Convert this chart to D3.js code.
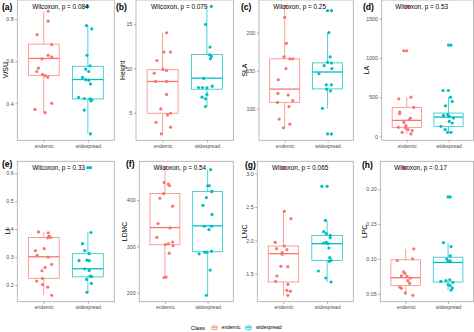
<!DOCTYPE html>
<html><head><meta charset="utf-8">
<script src="https://cdn.jsdelivr.net/npm/d3@7"></script>
<style>body{margin:0;background:#fff;} svg{display:block;font-family:"Liberation Sans",Arial,sans-serif;}</style>
</head><body><svg id="chart" width="474" height="332"></svg>
<script>
// ---------------- DATA ----------------
const classes = ["endemic", "widespread"];
const classColors = ["#F8766D", "#00BFC4"];
const traits = ["WSU", "Height", "SLA", "LA", "LI", "LDMC", "LNC", "LPC"];
const tags = ["(a)", "(b)", "(c)", "(d)", "(e)", "(f)", "(g)", "(h)"];
const pValues = ["0.084", "0.079", "0.25", "0.53", "0.33", "0.54", "0.065", "0.17"];
const yTicks = [
  [0.4, 0.6, 0.8], [5, 10, 15], [100, 150, 200], [0, 500, 1000, 1500],
  [0.2, 0.3, 0.4, 0.5, 0.6], [200, 300, 400], [1.5, 2.0, 2.5, 3.0], [0.05, 0.10, 0.15, 0.20]
];
const yTickLabels = [
  ["0.4", "0.6", "0.8"], ["5", "10", "15"], ["100", "150", "200"], ["0", "500", "1000", "1500"],
  ["0.2", "0.3", "0.4", "0.5", "0.6"], ["200", "300", "400"], ["1.5", "2.0", "2.5", "3.0"], ["0.05", "0.10", "0.15", "0.20"]
];

// WSU
const wsuEndemic = [0.837, 0.79, 0.726, 0.679, 0.628, 0.62, 0.611, 0.567, 0.551, 0.537, 0.532, 0.524, 0.40, 0.371, 0.356];
const wsuEndemicJitter = [0.10, 0.10, -0.15, 0.18, 0.10, 0.18, -0.04, -0.12, -0.16, -0.03, 0.03, 0.09, 0.18, -0.20, 0.03];
const wsuWidespread = [0.86, 0.769, 0.753, 0.628, 0.578, 0.562, 0.551, 0.523, 0.513, 0.51, 0.492, 0.428, 0.423, 0.421, 0.416, 0.412, 0.368, 0.255];
const wsuWidespreadJitter = [-0.02, -0.03, 0.09, -0.02, 0.05, -0.05, 0.02, -0.12, -0.05, 0.02, 0.06, -0.21, -0.08, 0.05, 0.09, 0.07, -0.08, 0.06];
const wsuBoxes = [[0.356, 0.532, 0.613, 0.681, 0.837], [0.255, 0.421, 0.513, 0.576, 0.769]];

// Height
const heightEndemic = [14.04, 11.85, 11.85, 10.9, 9.89, 9.77, 9.47, 8.53, 8.53, 7.06, 5.43, 4.75, 4.94, 3.92, 3.36, 2.6];
const heightEndemicJitter = [0.09, 0.03, 0.18, -0.13, 0.01, 0.09, -0.19, -0.16, 0.09, 0.09, -0.04, 0.11, 0.18, -0.15, 0.18, -0.03];
const heightWidespread = [17.02, 14.98, 12.42, 11.55, 11.36, 11.1, 8.87, 7.85, 7.85, 7.81, 8.0, 6.75, 6.57, 7.06, 5.7];
const heightWidespreadJitter = [0.10, -0.03, 0.07, 0.06, 0.10, 0.08, -0.07, -0.19, -0.10, 0.00, 0.12, -0.11, -0.03, 0.00, -0.03];
const heightBoxes = [[2.6, 4.94, 8.53, 9.85, 14.04], [5.7, 7.66, 8.9, 11.58, 17.02]];

// SLA
const slaEndemic = [234.5, 220, 185.8, 168, 165.5, 165.5, 152.7, 138, 120, 118, 110.6, 108.4, 102.7, 86.3, 79.6, 74.8];
const slaEndemicJitter = [0.02, 0.00, 0.04, -0.02, 0.12, 0.19, 0.03, -0.15, -0.16, 0.08, 0.19, -0.17, 0.10, -0.13, 0.12, -0.03];
const slaWidespread = [228.8, 200, 168, 161, 160, 156.6, 152.7, 146, 131.4, 131.4, 125.7, 123.5, 100.4, 66.8];
const slaWidespreadJitter = [0.09, 0.03, 0.06, 0.00, 0.09, -0.08, 0.10, -0.20, -0.03, 0.09, -0.02, 0.07, -0.12, 0.09];
const slaBoxes = [[74.8, 108.4, 125.7, 165.5, 234.5], [100.4, 126, 148.2, 160.2, 200]];

// LA
const laEndemic = [1658, 1092, 479, 500, 369, 310, 289, 234, 213, 179, 136, 115, 107, 86, 73, 52, 31];
const laEndemicJitter = [0.05, -0.07, -0.19, 0.10, 0.17, -0.17, -0.17, 0.09, 0.06, -0.07, -0.02, -0.20, -0.03, 0.03, 0.13, -0.11, 0.10];
const laWidespread = [1164, 585, 500, 445, 390, 276, 255, 267, 234, 191, 170, 128, 86, 52, 52];
const laWidespreadJitter = [0.06, -0.13, 0.05, 0.09, -0.07, -0.02, 0.02, -0.12, 0.12, 0.02, 0.09, -0.18, -0.08, -0.02, 0.06];
const laBoxes = [[31, 115, 204, 369, 500], [52, 128, 246, 297, 500]];

// LI
const liEndemic = [0.390, 0.387, 0.375, 0.369, 0.370, 0.323, 0.330, 0.306, 0.30, 0.263, 0.274, 0.251, 0.224, 0.214, 0.201, 0.192, 0.163];
const liEndemicJitter = [-0.12, 0.10, 0.12, 0.09, 0.16, -0.19, 0.01, -0.15, 0.10, 0.03, 0.18, -0.04, -0.03, -0.16, -0.03, 0.09, 0.18];
const liWidespread = [0.62, 0.388, 0.348, 0.323, 0.312, 0.287, 0.289, 0.287, 0.258, 0.252, 0.232, 0.230, 0.220, 0.206, 0.174];
const liWidespreadJitter = [0.06, 0.07, -0.12, -0.07, 0.03, -0.20, -0.02, 0.03, -0.07, 0.03, 0.05, 0.09, -0.03, 0.08, -0.02];
const liBoxes = [[0.163, 0.224, 0.301, 0.370, 0.390], [0.174, 0.229, 0.258, 0.312, 0.388]];

// LDMC
const ldmcEndemic = [470, 438, 434.5, 431, 414, 404, 387, 349.5, 340, 319.6, 304, 309.5, 305.8, 301.5, 285.5, 233, 234];
const ldmcEndemicJitter = [0.01, -0.02, 0.08, 0.11, -0.03, -0.12, 0.18, -0.16, 0.12, -0.19, 0.01, 0.18, 0.08, 0.19, 0.10, -0.02, 0.03];
const ldmcWidespread = [466, 431, 431, 418.5, 419, 405.5, 388.7, 369, 343.6, 343.6, 336.4, 284, 287.6, 287.6, 289.8, 249, 194.5];
const ldmcWidespreadJitter = [0.07, 0.00, 0.04, 0.09, 0.10, -0.03, -0.11, 0.10, -0.08, 0.09, 0.03, -0.20, -0.07, -0.02, 0.09, 0.06, -0.03];
const ldmcBoxes = [[233, 303.6, 340.7, 414, 470], [194.5, 288.4, 344.4, 418.5, 466]];

// LNC
const lncEndemic = [3.09, 2.435, 2.325, 1.97, 1.875, 1.915, 1.86, 1.815, 1.79, 1.61, 1.605, 1.465, 1.385, 1.34, 1.25, 1.235, 1.175];
const lncEndemicJitter = [0.02, 0.02, 0.17, -0.19, -0.16, 0.02, 0.08, -0.03, -0.03, -0.06, 0.10, -0.15, -0.18, 0.10, 0.08, 0.16, 0.10];
const lncWidespread = [2.81, 2.30, 2.13, 2.10, 2.075, 2.04, 1.96, 1.97, 1.95, 1.885, 1.74, 1.70, 1.685, 1.54, 1.435, 1.375];
const lncWidespreadJitter = [-0.12, -0.04, -0.08, -0.02, 0.07, 0.07, -0.08, -0.02, 0.02, 0.04, 0.06, 0.09, 0.05, -0.20, -0.03, 0.09];
const lncBoxes = [[1.175, 1.375, 1.80, 1.915, 2.435], [1.375, 1.70, 1.95, 2.075, 2.30]];

// LPC
const lpcEndemic = [0.231, 0.1143, 0.0976, 0.10, 0.0814, 0.079, 0.0757, 0.0748, 0.0724, 0.0686, 0.0648, 0.0595, 0.0576, 0.051, 0.0476];
const lpcEndemicJitter = [-0.05, 0.19, -0.20, 0.16, -0.05, -0.02, -0.10, 0.03, 0.11, 0.05, 0.09, -0.14, -0.10, -0.01, 0.17];
const lpcWidespread = [0.189, 0.1233, 0.1176, 0.1043, 0.0995, 0.0971, 0.0962, 0.0676, 0.0686, 0.07, 0.0662, 0.0629, 0.0614, 0.058, 0.0552];
const lpcWidespreadJitter = [0.05, -0.11, 0.07, 0.05, -0.03, 0.05, 0.00, -0.17, -0.05, 0.04, 0.11, 0.00, 0.05, 0.10, 0.07];
const lpcBoxes = [[0.0476, 0.0619, 0.0729, 0.0986, 0.1143], [0.0552, 0.0667, 0.0948, 0.1024, 0.1233]];

const traitData = [
  [wsuEndemic, wsuWidespread, wsuEndemicJitter, wsuWidespreadJitter, wsuBoxes],
  [heightEndemic, heightWidespread, heightEndemicJitter, heightWidespreadJitter, heightBoxes],
  [slaEndemic, slaWidespread, slaEndemicJitter, slaWidespreadJitter, slaBoxes],
  [laEndemic, laWidespread, laEndemicJitter, laWidespreadJitter, laBoxes],
  [liEndemic, liWidespread, liEndemicJitter, liWidespreadJitter, liBoxes],
  [ldmcEndemic, ldmcWidespread, ldmcEndemicJitter, ldmcWidespreadJitter, ldmcBoxes],
  [lncEndemic, lncWidespread, lncEndemicJitter, lncWidespreadJitter, lncBoxes],
  [lpcEndemic, lpcWidespread, lpcEndemicJitter, lpcWidespreadJitter, lpcBoxes]
];

// ---------------- LAYOUT ----------------
const panels = [
  {l: 17.3, r: 114.3, t: 0, b: 140.3, titleX: 5.5, tagX: 2, tagY: 9.5},
  {l: 136, r: 233.5, t: 0, b: 140.3, titleX: 122.5, tagX: 116, tagY: 9.5},
  {l: 259, r: 353.3, t: 0, b: 140.3, titleX: 244.5, tagX: 241, tagY: 9.5},
  {l: 381.7, r: 473.5, t: 0, b: 140.3, titleX: 366.5, tagX: 363, tagY: 9.5},
  {l: 17.3, r: 114.3, t: 161.3, b: 301.7, titleX: 7.5, tagX: 2, tagY: 166.5},
  {l: 139.3, r: 233.3, t: 161.3, b: 301.7, titleX: 124.5, tagX: 126, tagY: 166.5},
  {l: 257.3, r: 353.3, t: 161.3, b: 301.7, titleX: 244.5, tagX: 245, tagY: 168},
  {l: 380.3, r: 473.5, t: 161.3, b: 301.7, titleX: 364.5, tagX: 362, tagY: 168}
];

const svg = d3.select("#chart");
svg.append("rect").attr("width", 474).attr("height", 332).attr("fill", "#fff");

traits.forEach((trait, i) => {
  const P = panels[i];
  const [endV, wsV, endJ, wsJ, boxes] = traitData[i];
  const values = [endV, wsV];
  const jit = [endJ, wsJ];
  const all = endV.concat(wsV);
  const labelY = d3.max(all);
  const [mn, mx] = d3.extent(all);
  const pad = (mx - mn) * 0.05;

  const x = d3.scaleLinear().domain([0.4, 2.6]).range([P.l, P.r]);
  const y = d3.scaleLinear().domain([mn - pad, mx + pad]).range([P.b, P.t]);
  const g = svg.append("g");

  g.append("rect").attr("x", P.l).attr("y", P.t).attr("width", P.r - P.l).attr("height", P.b - P.t)
    .attr("fill", "none").attr("stroke", "#aaaaaa").attr("stroke-width", 0.8);

  const bw = 0.35;
  classes.forEach((cls, c) => {
    const [lo, q1, med, q3, hi] = boxes[c];
    const cx = c + 1;
    const col = classColors[c];
    const bg = g.append("g");
    bg.append("line").attr("x1", x(cx)).attr("x2", x(cx)).attr("y1", y(q3)).attr("y2", y(hi))
      .attr("stroke", col).attr("stroke-width", 0.7);
    bg.append("line").attr("x1", x(cx)).attr("x2", x(cx)).attr("y1", y(q1)).attr("y2", y(lo))
      .attr("stroke", col).attr("stroke-width", 0.7);
    bg.append("rect").attr("x", x(cx - bw)).attr("width", x(cx + bw) - x(cx - bw))
      .attr("y", y(q3)).attr("height", y(q1) - y(q3))
      .attr("fill", "#fff").attr("stroke", col).attr("stroke-width", 0.7);
    bg.append("line").attr("x1", x(cx - bw)).attr("x2", x(cx + bw)).attr("y1", y(med)).attr("y2", y(med))
      .attr("stroke", col).attr("stroke-width", 1.3);
    bg.selectAll("circle.out").data(values[c].filter(v => v > hi || v < lo)).join("circle")
      .attr("class", "out").attr("cx", x(cx)).attr("cy", d => y(d)).attr("r", 1.6).attr("fill", col);
  });
  classes.forEach((cls, c) => {
    const cx = c + 1;
    g.selectAll("circle.pt" + c).data(values[c]).join("circle")
      .attr("class", "pt" + c)
      .attr("cx", (d, k) => x(cx + jit[c][k]))
      .attr("cy", d => y(d)).attr("r", 1.6).attr("fill", classColors[c]);
  });

  g.append("text").attr("x", x(1) - 11.5).attr("y", y(labelY)).attr("dy", "0.35em")
    .attr("font-size", 6.4).attr("fill", "#000").text("Wilcoxon, p = " + pValues[i]);

  const yAxis = d3.axisLeft(y).tickValues(yTicks[i]).tickFormat((d, k) => yTickLabels[i][k])
    .tickSize(2.2).tickPadding(1.5);
  const ya = g.append("g").attr("transform", `translate(${P.l},0)`).call(yAxis);
  ya.select(".domain").remove();
  ya.selectAll("line").attr("stroke", "#666").attr("stroke-width", 0.5);
  ya.selectAll("text").attr("font-size", 5.3).attr("fill", "#4d4d4d").attr("font-family", "Liberation Sans, Arial, sans-serif");

  const xAxis = d3.axisBottom(x).tickValues([1, 2]).tickFormat((d) => classes[d - 1])
    .tickSize(2.2).tickPadding(1.5);
  const xa = g.append("g").attr("transform", `translate(0,${P.b})`).call(xAxis);
  xa.select(".domain").remove();
  xa.selectAll("line").attr("stroke", "#666").attr("stroke-width", 0.5);
  xa.selectAll("text").attr("font-size", 5.0).attr("fill", "#4d4d4d").attr("font-family", "Liberation Sans, Arial, sans-serif");

  g.append("text").attr("transform", `translate(${P.titleX},${(P.t + P.b) / 2}) rotate(-90)`)
    .attr("text-anchor", "middle").attr("dy", "0.35em").attr("font-size", 6.8).attr("fill", "#000").text(trait);

  g.append("text").attr("x", P.tagX).attr("y", P.tagY).attr("font-size", 8.5).attr("font-weight", "bold")
    .attr("fill", "#000").text(tags[i]);
});

// ---------------- LEGEND ----------------
const leg = svg.append("g").attr("transform", "translate(0,327.7)");
leg.append("text").attr("x", 190.8).attr("dy", "0.35em").attr("font-size", 5.6).attr("fill", "#000").text("Class");
const keyX = [211, 245];
const labX = [221.5, 256];
classes.forEach((cls, c) => {
  const k = leg.append("g").attr("transform", `translate(${keyX[c]},-3.5)`);
  const col = classColors[c];
  k.append("line").attr("x1", 3.5).attr("x2", 3.5).attr("y1", 0.7).attr("y2", 6.3).attr("stroke", col).attr("stroke-width", 0.6);
  k.append("rect").attr("x", 0.9).attr("y", 1.8).attr("width", 5.2).attr("height", 3.4)
    .attr("fill", "#fff").attr("stroke", col).attr("stroke-width", 0.6);
  k.append("line").attr("x1", 0.9).attr("x2", 6.1).attr("y1", 3.5).attr("y2", 3.5).attr("stroke", col).attr("stroke-width", 0.9);
  leg.append("text").attr("x", labX[c]).attr("dy", "0.35em").attr("font-size", 5.0).attr("fill", "#000").text(cls);
});
</script>
</body></html>
